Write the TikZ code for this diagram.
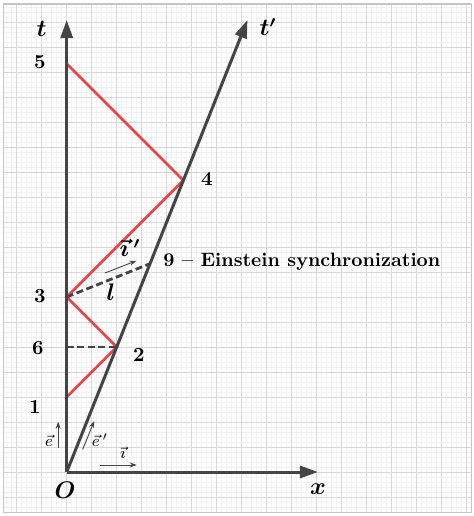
\documentclass[tikz,border=0pt]{standalone}
\usetikzlibrary{arrows.meta}
\definecolor{axisgray}{HTML}{444444}
\definecolor{raycol}{HTML}{E84448}
\definecolor{majgrid}{HTML}{D8D8D8}
\definecolor{mingrid}{HTML}{F2F2F2}
\definecolor{framecol}{HTML}{C4C4C4}
\begin{document}
\begin{tikzpicture}[x=12.5pt,y=12.5pt,
  axis/.style={line width=1.5pt, draw=axisgray, -{Triangle[length=9pt,width=6pt]}},
  ray/.style={line width=1.3pt, draw=raycol},
  syncline/.style={line width=1.4pt, draw=axisgray, dash pattern=on 3.5pt off 1.8pt},
  smallvec/.style={line width=0.45pt, draw=axisgray, -{Stealth[length=3.5pt,width=2.5pt]}},
  lab/.style={font=\bfseries\boldmath, inner sep=0pt},
  veclab/.style={font=\footnotesize, inner sep=0pt}]
\useasboundingbox (-2.668,-1.76) rectangle (16.292,18.88);
\fill[white] (-2.668,-1.76) rectangle (16.292,18.88);
\begin{scope}
\clip (-2.528,-1.62) rectangle (16.19,18.72);
\draw[mingrid, line width=0.3pt, step=0.2] (-3,-2) grid (17,19);
\draw[majgrid, line width=0.5pt, step=1] (-3,-2) grid (17,19);
\end{scope}
\draw[framecol, line width=0.8pt] (-2.528,-1.62) rectangle (16.19,18.72);

% coordinates
\coordinate (O) at (0,0);
\coordinate (ttip) at (0,18.08);
\coordinate (xtip) at (10.05,0);
\coordinate (tptip) at (7.232,18.08);
\coordinate (P1) at (0,3);
\coordinate (P2) at (2,5);
\coordinate (P3) at (0,7);
\coordinate (P4) at (14/3,35/3);
\coordinate (P5) at (0,49/3);
\coordinate (P6) at (0,5);
\coordinate (Q) at (10/3,25/3);

% red light rays
\draw[ray] (P1) -- (P2) -- (P3) -- (P4) -- (P5);
% dashed sync lines
\draw[syncline] (P6) -- (P2);
\draw[syncline] (P3) -- (Q);

% axes
\draw[axis] (O) -- (ttip);
\draw[axis] (O) -- (xtip);
\draw[axis] (O) -- (tptip);

% small basis vectors
\coordinate (ea) at (-0.34,0.96); \coordinate (eb) at (-0.34,2.01);
\coordinate (epa) at (0.64,0.9); \coordinate (epb) at (1.1,2.04);
\coordinate (ia) at (1.33,0.28); \coordinate (ib) at (2.8,0.28);
\coordinate (ipa) at (1.53,7.96); \coordinate (ipb) at (2.79,8.45);
\draw[smallvec] (ea) -- (eb);
\draw[smallvec] (epa) -- (epb);
\draw[smallvec] (ia) -- (ib);
\draw[smallvec] (ipa) -- (ipb);

% labels
\node[lab] (lt) at (-1.0,17.72) {\large $t$};
\node[lab] (ltp) at (8.05,17.8) {\large $t'$};
\node[lab] (lx) at (10.05,-0.68) {\large $x$};
\node[lab] (lO) at (-0.07,-0.72) {\large $O$};
\node[lab] (l5) at (-1.07,16.4) {5};
\node[lab] (l4) at (5.61,11.72) {4};
\node[lab] (l3) at (-1.07,7.04) {3};
\node[lab] (l6) at (-1.15,4.96) {6};
\node[lab] (l2) at (2.89,4.68) {2};
\node[lab] (l1) at (-1.27,2.6) {1};
\node[lab] (ll) at (1.77,7.2) {\large $l$};
\node[lab] (lip) at (2.53,8.96) {\large $\vec{\imath}\,'$};
\node[lab, anchor=west, font=\fontsize{9.7}{12}\selectfont\bfseries] (sync) at (3.85,8.4) {9 -- Einstein synchronization};
\node[veclab] (le) at (-0.71,1.24) {$\vec e$};
\node[veclab] (lep) at (1.33,1.28) {$\vec e\,'$};
\node[veclab] (li) at (2.25,0.76) {$\vec\imath$};
\end{tikzpicture}
\end{document}
